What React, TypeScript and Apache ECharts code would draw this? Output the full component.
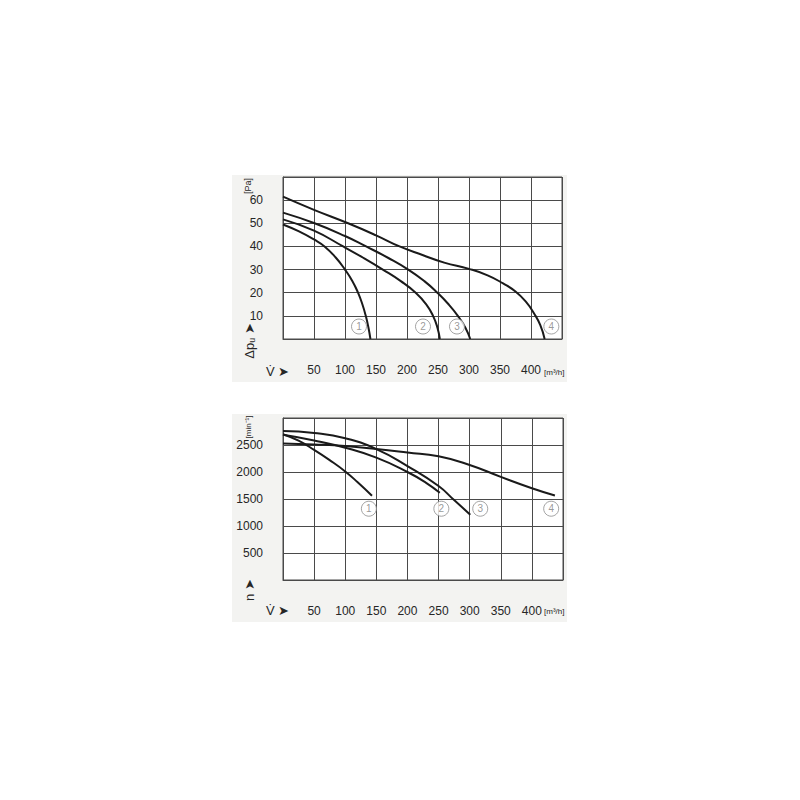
import React, { useEffect, useRef } from "react";
import * as echarts from "echarts";

// ---- data ----
const flowMax = 450;
const flowStep = 50;
const pressureMax = 70;
const pressureStep = 10;
const speedMax = 3000;
const speedStep = 500;

const curveNames = ["1", "2", "3", "4"];

// pressure Δpu [Pa] vs flow V [m³/h]
const pressure1 = [[0, 49.5], [25, 46.6], [50, 43], [67, 40], [85, 35.2], [100, 30], [112, 25], [121, 20], [128, 15], [133.5, 10], [137.8, 5], [141, 0]];
const pressure2 = [[0, 51.7], [50, 46.8], [97, 40], [130, 35], [161, 30], [190, 25], [214, 20], [231, 15], [242, 10], [249, 5], [253, 0]];
const pressure3 = [[0, 54.6], [51, 50], [100, 44.5], [134, 40], [170, 35], [202, 30], [228, 25], [249, 20], [267, 15], [282, 10], [294, 5], [302, 0]];
const pressure4 = [[0, 61.5], [50, 55.8], [105, 50], [150, 44.8], [188, 40], [225, 36.3], [260, 33], [300, 30.3], [330, 27.5], [355, 24], [375, 20.5], [392, 16], [405, 11], [415, 6], [422, 0]];

// speed n [min⁻¹] vs flow V [m³/h]
const speed1 = [[0, 2700], [25, 2580], [50, 2410], [75, 2220], [100, 2010], [120, 1810], [143, 1560]];
const speed2 = [[0, 2690], [50, 2585], [100, 2450], [150, 2265], [200, 2000], [230, 1800], [252, 1615]];
const speed3 = [[0, 2757], [50, 2722], [100, 2625], [150, 2425], [200, 2110], [250, 1740], [275, 1480], [301, 1210]];
const speed4 = [[0, 2530], [50, 2510], [100, 2480], [150, 2425], [200, 2360], [250, 2290], [300, 2130], [350, 1910], [400, 1700], [437, 1565]];

// curve number markers
const pressureMarkX = [122.6, 225.8, 280.6, 432.8];
const pressureMarkY = 5.4;
const speedMarkX = [138, 254.5, 317, 431];
const speedMarkY = 1320;

const FONT = "'Liberation Sans', Arial, sans-serif";
const LABEL_COLOR = "#262626";
const GRID_COLOR = "#4a4a4a";
const CURVE_COLOR = "#1a1a1a";

export default function App() {
  const ref = useRef<HTMLDivElement>(null);

  useEffect(() => {
    if (!ref.current) return;
    const chart = echarts.init(ref.current, null, { renderer: "svg" });

    const grids = [
      { left: 283, top: 177, width: 279, height: 162 },
      { left: 283, top: 418, width: 280, height: 162 },
    ].map((g) => ({
      ...g,
      show: true,
      backgroundColor: "#ffffff",
      borderColor: GRID_COLOR,
      borderWidth: 1,
      containLabel: false,
    }));

    const xAxisBase = (gridIndex: number) => ({
      type: "value" as const,
      gridIndex,
      min: 0,
      max: flowMax,
      interval: flowStep,
      axisLine: { show: true, lineStyle: { color: GRID_COLOR, width: 1 } },
      axisTick: { show: false },
      splitLine: { show: true, lineStyle: { color: GRID_COLOR, width: 1 } },
      axisLabel: {
        margin: 25,
        color: LABEL_COLOR,
        fontFamily: FONT,
        fontSize: 12,
        formatter: (v: number) => (v === 0 || v === flowMax ? "" : String(v)),
      },
    });

    const yAxisBase = (gridIndex: number, max: number, step: number) => ({
      type: "value" as const,
      gridIndex,
      min: 0,
      max,
      interval: step,
      axisLine: { show: true, lineStyle: { color: GRID_COLOR, width: 1 } },
      axisTick: { show: false },
      splitLine: { show: true, lineStyle: { color: GRID_COLOR, width: 1 } },
      axisLabel: {
        margin: 20,
        color: LABEL_COLOR,
        fontFamily: FONT,
        fontSize: 12,
        formatter: (v: number) => (v === 0 || v === max ? "" : String(v)),
      },
    });

    const curve = (data: number[][], gridIndex: number, name: string) => ({
      type: "line" as const,
      name,
      xAxisIndex: gridIndex,
      yAxisIndex: gridIndex,
      data,
      smooth: 0.5,
      symbol: "none",
      lineStyle: { color: CURVE_COLOR, width: 2 },
      silent: true,
      z: 3,
    });

    const markers = (xs: number[], y: number, gridIndex: number) => ({
      type: "scatter" as const,
      xAxisIndex: gridIndex,
      yAxisIndex: gridIndex,
      data: xs.map((x, i) => ({ value: [x, y], name: curveNames[i] })),
      symbol: "circle",
      symbolSize: 15,
      itemStyle: { color: "#ffffff", borderColor: "#8c8c8c", borderWidth: 1 },
      label: {
        show: true,
        position: "inside",
        formatter: (p: any) => p.name,
        color: "#808080",
        fontSize: 10,
        fontFamily: FONT,
      },
      silent: true,
      z: 4,
    });

    const axisText = (x: number, y: number, text: string, rotate: boolean, size = 13, align = "center") => ({
      type: "text",
      x,
      y,
      rotation: rotate ? Math.PI / 2 : 0,
      z: 10,
      style: {
        text,
        fill: LABEL_COLOR,
        font: `${size}px ${FONT}`,
        align,
        verticalAlign: "middle",
      },
    });

    chart.setOption({
      animation: false,
      backgroundColor: "#ffffff",
      grid: grids,
      xAxis: [xAxisBase(0), xAxisBase(1)],
      yAxis: [yAxisBase(0, pressureMax, pressureStep), yAxisBase(1, speedMax, speedStep)],
      series: [
        curve(pressure1, 0, "1"),
        curve(pressure2, 0, "2"),
        curve(pressure3, 0, "3"),
        curve(pressure4, 0, "4"),
        markers(pressureMarkX, pressureMarkY, 0),
        curve(speed1, 1, "1"),
        curve(speed2, 1, "2"),
        curve(speed3, 1, "3"),
        curve(speed4, 1, "4"),
        markers(speedMarkX, speedMarkY, 1),
      ],
      graphic: [
        { type: "rect", shape: { x: 232, y: 175, width: 335, height: 207 }, style: { fill: "#f3f3f1" }, z: -10, silent: true },
        { type: "rect", shape: { x: 232, y: 414, width: 335, height: 208 }, style: { fill: "#f3f3f1" }, z: -10, silent: true },
        axisText(248, 186, "[Pa]", true, 9),
        axisText(249, 341, "Δpᵤ ➤", true, 13),
        axisText(266, 371, "V̇ ➤", false, 13, "left"),
        axisText(544, 372, "[m³/h]", false, 8, "left"),
        axisText(248, 427, "[min⁻¹]", true, 8),
        axisText(249, 590, "n ➤", true, 13),
        axisText(266, 610, "V̇ ➤", false, 13, "left"),
        axisText(544, 611, "[m³/h]", false, 8, "left"),
      ],
    });

    return () => chart.dispose();
  }, []);

  return <div ref={ref} style={{ position: "fixed", left: 0, top: 0, width: 800, height: 800 }} />;
}
